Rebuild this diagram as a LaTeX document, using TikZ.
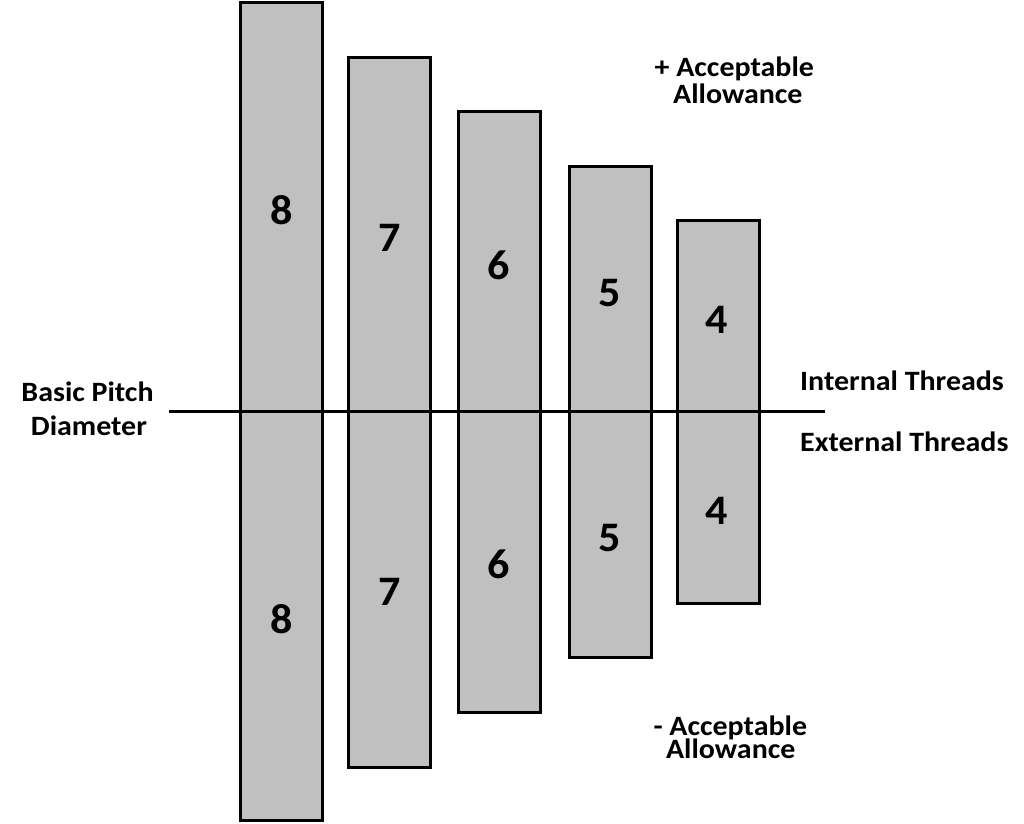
\documentclass[tikz,border=0pt]{standalone}
\usepackage{fontspec}
\setmainfont{Carlito}
\newfontfamily\lblfont{Carlito}[FakeStretch=1.07]
\newfontfamily\digfont{Carlito}[FakeStretch=1.05]
\begin{document}
\begin{tikzpicture}[x=1pt,y=-1pt,
  band/.style={draw=black,fill={rgb,255:red,192;green,192;blue,192},line width=3pt,
    rectangle,inner sep=0pt,outer sep=0pt,minimum width=82pt},
  digit/.style={font=\digfont\fontsize{42}{42}\selectfont\bfseries,inner sep=0pt,anchor=center},
  lbl/.style={font=\lblfont\fontsize{28}{30}\selectfont\bfseries,inner sep=0pt,anchor=base},
  lbll/.style={lbl,anchor=base west},
  pitchline/.style={draw=black,line width=2.6pt}]
\useasboundingbox (0,0) rectangle (1024,823);
% bands
\node[band,minimum height=818pt]   (r8) at (281.75,411.3) {};
\node[band,minimum height=709.3pt] (r7) at (389.75,412.35) {};
\node[band,minimum height=601.7pt] (r6) at (499.1,411.85) {};
\node[band,minimum height=491.8pt] (r5) at (610.85,411.9) {};
\node[band,minimum height=383.4pt] (r4) at (718,412) {};
% basic pitch line
\coordinate (lineL) at (169.3,411.7);
\coordinate (lineR) at (825,411.7);
\draw[pitchline] (lineL) -- (lineR);
% digits
\node[digit] (u8) at (281.5,210) {8};
\node[digit] (u7) at (389.5,238) {7};
\node[digit] (u6) at (499,265.5) {6};
\node[digit] (u5) at (610,292.7) {5};
\node[digit] (u4) at (717,319.7) {4};
\node[digit] (d8) at (281.5,618.8) {8};
\node[digit] (d7) at (389.5,591.7) {7};
\node[digit] (d6) at (499,564.5) {6};
\node[digit] (d5) at (610,537.8) {5};
\node[digit] (d4) at (717,510.5) {4};
% labels
\node[lbl] (bp1) at (87.5,401.7) {Basic Pitch};
\node[lbl] (bp2) at (88.9,435) {Diameter};
\node[lbll] (it) at (800,390) {Internal Threads};
\node[lbll] (et) at (800,451.7) {External Threads};
\node[lbl] (pa1) at (734.3,76.3) {+ Acceptable};
\node[lbl] (pa2) at (737.8,103.3) {Allowance};
\node[lbl] (ma1) at (730.3,735) {- Acceptable};
\node[lbl] (ma2) at (730.7,758.8) {Allowance};
\end{tikzpicture}
\end{document}
